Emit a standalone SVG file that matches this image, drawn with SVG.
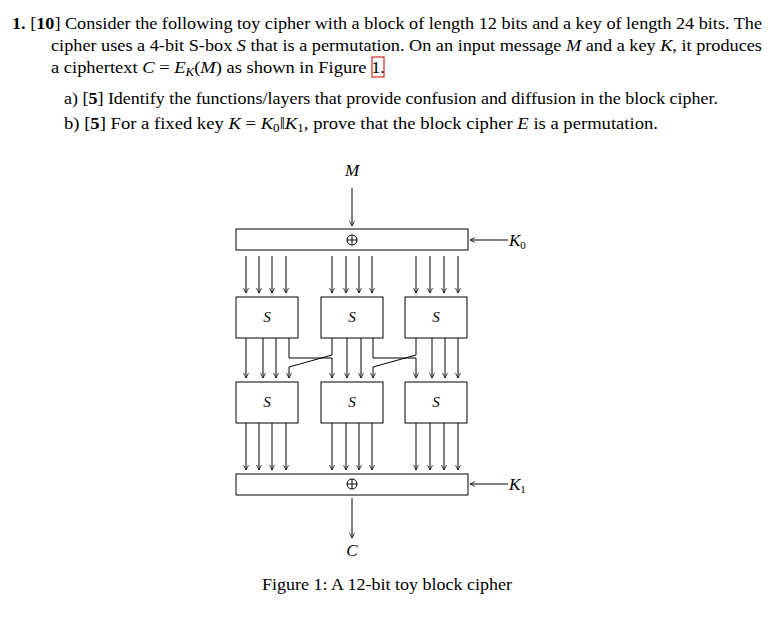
<svg xmlns="http://www.w3.org/2000/svg" width="783" height="618" viewBox="0 0 783 618">
<style>
text{font-family:"Liberation Serif","DejaVu Serif",serif;fill:#000}
.t{font-size:17px}
.i{font-style:italic}
.b{fill:#fff;stroke:#000;stroke-width:1}
.w{fill:none;stroke:#000;stroke-width:1}
</style>
<defs><marker id="a" viewBox="0 0 8 8" refX="7" refY="4" markerWidth="6" markerHeight="6" orient="auto"><path d="M0,0.5 L7,4 L0,7.5" fill="none" stroke="#000" stroke-width="1"/></marker></defs>
<rect width="783" height="618" fill="#fff"/>
<g id="text">
<text class="t" x="12" y="29" textLength="750" lengthAdjust="spacingAndGlyphs"><tspan font-weight="bold">1.</tspan> [<tspan font-weight="bold">10</tspan>] Consider the following toy cipher with a block of length 12 bits and a key of length 24 bits. The</text>
<text class="t" x="51" y="51" textLength="711" lengthAdjust="spacingAndGlyphs">cipher uses a 4-bit S-box <tspan class="i">S</tspan> that is a permutation. On an input message <tspan class="i">M</tspan> and a key <tspan class="i">K</tspan>, it produces</text>
<text class="t" x="51" y="73" textLength="334" lengthAdjust="spacingAndGlyphs">a ciphertext <tspan class="i">C</tspan> = <tspan class="i">E</tspan><tspan class="i" font-size="12" dy="3">K</tspan><tspan dy="-3">(</tspan><tspan class="i">M</tspan>) as shown in Figure 1.</text>
<rect x="372" y="57" width="12" height="20" fill="none" stroke="#c00" stroke-width="1"/>
<text class="t" x="64" y="104" textLength="654" lengthAdjust="spacingAndGlyphs">a) [<tspan font-weight="bold">5</tspan>] Identify the functions/layers that provide confusion and diffusion in the block cipher.</text>
<text class="t" x="64" y="129" textLength="594" lengthAdjust="spacingAndGlyphs">b) [<tspan font-weight="bold">5</tspan>] For a fixed key <tspan class="i">K</tspan> = <tspan class="i">K</tspan><tspan font-size="12" dy="3">0</tspan><tspan dy="-3">‖</tspan><tspan class="i">K</tspan><tspan font-size="12" dy="3">1</tspan><tspan dy="-3">, prove that the block cipher </tspan><tspan class="i">E</tspan> is a permutation.</text>
<text class="t" x="262" y="590" textLength="250" lengthAdjust="spacingAndGlyphs">Figure 1: A 12-bit toy block cipher</text>
</g>
<g id="xor0"><rect class="b" x="236" y="229" width="232" height="21"/><circle class="w" cx="352" cy="240" r="5"/><path class="w" d="M347,240h10M352,235v10"/></g>
<g id="xor1"><rect class="b" x="236" y="474" width="232" height="21"/><circle class="w" cx="352" cy="484" r="5"/><path class="w" d="M347,484h10M352,479v10"/></g>
<g id="s11"><rect class="b" x="236" y="297" width="62" height="41"/><text class="i" x="267" y="322" font-size="15" text-anchor="middle">S</text></g>
<g id="s12"><rect class="b" x="321" y="297" width="62" height="41"/><text class="i" x="352" y="322" font-size="15" text-anchor="middle">S</text></g>
<g id="s13"><rect class="b" x="405" y="297" width="62" height="41"/><text class="i" x="436" y="322" font-size="15" text-anchor="middle">S</text></g>
<g id="s21"><rect class="b" x="236" y="382" width="62" height="41"/><text class="i" x="267" y="407" font-size="15" text-anchor="middle">S</text></g>
<g id="s22"><rect class="b" x="321" y="382" width="62" height="41"/><text class="i" x="352" y="407" font-size="15" text-anchor="middle">S</text></g>
<g id="s23"><rect class="b" x="405" y="382" width="62" height="41"/><text class="i" x="436" y="407" font-size="15" text-anchor="middle">S</text></g>
<g id="labels">
<text class="i" x="352" y="176" font-size="17" text-anchor="middle">M</text>
<text class="i" x="352" y="556" font-size="17" text-anchor="middle">C</text>
<text class="i" x="509" y="246" font-size="17">K<tspan font-size="11" dy="3" font-style="normal">0</tspan></text>
<text class="i" x="509" y="490" font-size="17">K<tspan font-size="11" dy="3" font-style="normal">1</tspan></text>
</g>
<g id="connectors" class="w" marker-end="url(#a)">
<path d="M352,188V226"/><path d="M352,498V538"/>
<path d="M508,240H470"/><path d="M508,484H470"/>
<path d="M246,256V293"/><path d="M259,256V293"/><path d="M272,256V293"/><path d="M286,256V293"/>
<path d="M332,256V293"/><path d="M346,256V293"/><path d="M359,256V293"/><path d="M372,256V293"/>
<path d="M416,256V293"/><path d="M430,256V293"/><path d="M444,256V293"/><path d="M458,256V293"/>
<path d="M246,338V378"/><path d="M263,338V378"/><path d="M276,338V378"/>
<path d="M289,338V358H332V378"/>
<path d="M332,338V355L289,367V378"/>
<path d="M347,338V378"/><path d="M361,338V378"/>
<path d="M373,338V358H416V378"/>
<path d="M416,338V355L373,367V378"/>
<path d="M432,338V378"/><path d="M445,338V378"/><path d="M458,338V378"/>
<path d="M246,423V470"/><path d="M259,423V470"/><path d="M272,423V470"/><path d="M286,423V470"/>
<path d="M332,423V470"/><path d="M346,423V470"/><path d="M359,423V470"/><path d="M372,423V470"/>
<path d="M416,423V470"/><path d="M430,423V470"/><path d="M444,423V470"/><path d="M458,423V470"/>
</g>
</svg>
